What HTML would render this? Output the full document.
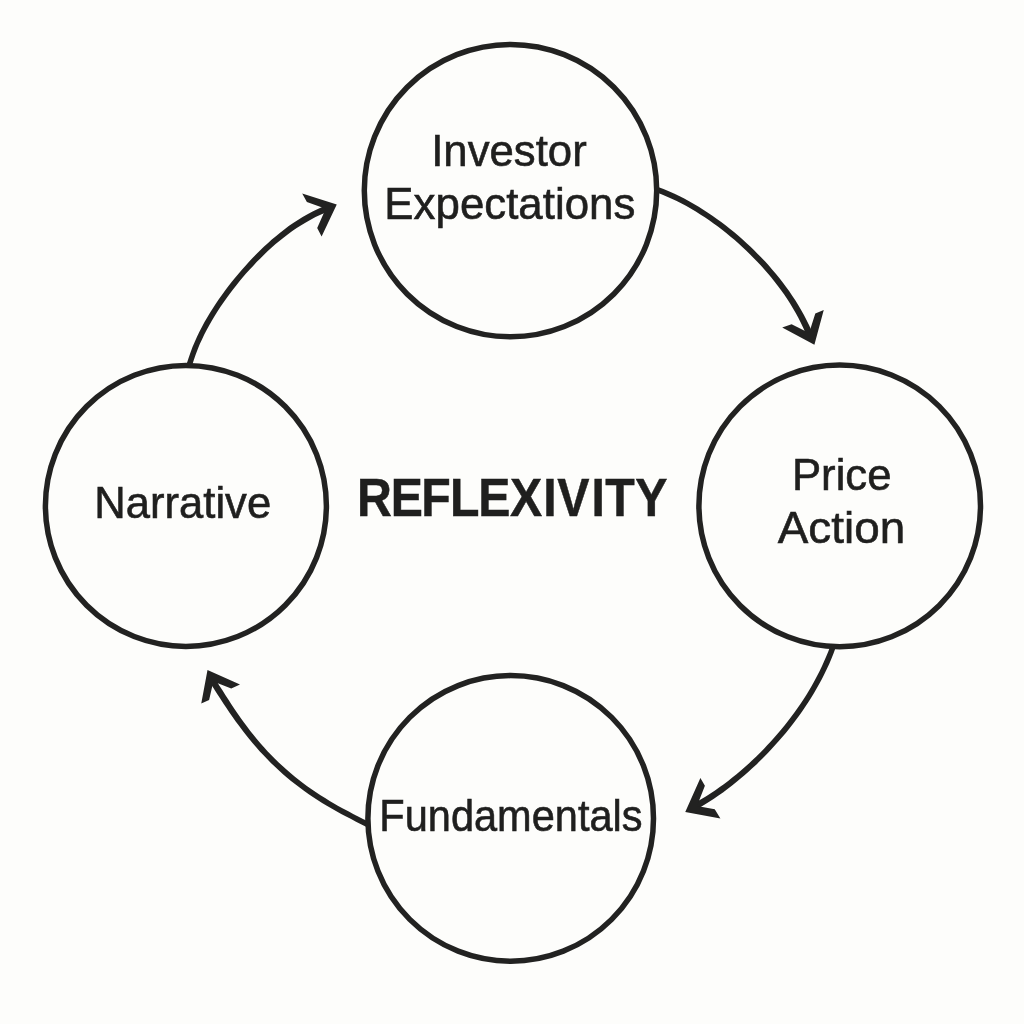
<!DOCTYPE html>
<html lang="en">
<head>
<meta charset="utf-8">
<title>Reflexivity</title>
<style>
  html, body { margin: 0; padding: 0; background: #fdfdfb; }
  body { width: 1024px; height: 1024px; overflow: hidden; }
  svg { display: block; }
  .ring { fill: none; stroke: #222221; stroke-width: 5.5; }
  .shaft, .head { fill: #222221; stroke: none; }
  text { font-family: "Liberation Sans", Arial, Helvetica, sans-serif; fill: #1f1f1e; }
  .label { font-size: 44px; stroke: #1f1f1e; stroke-width: 0.6px; }
  .title { font-size: 54px; font-weight: 700; stroke: #1f1f1e; stroke-width: 0.5px; }
</style>
</head>
<body>
<svg width="1024" height="1024" viewBox="0 0 1024 1024">
  <rect x="0" y="0" width="1024" height="1024" fill="#fdfdfb"/>

  <!-- arrows (drawn first so the circle strokes sit on top at the junctions) -->
  <!-- 1: Investor Expectations to Price Action -->
  <polygon class="shaft" points="656.1,192.2 661.4,194.3 666.6,196.4 671.7,198.7 676.7,201.1 681.6,203.6 686.4,206.1 691.1,208.8 695.8,211.6 700.3,214.4 704.8,217.3 709.2,220.3 713.6,223.4 717.9,226.6 722.1,229.8 726.2,233.1 730.3,236.4 734.4,239.8 738.3,243.3 742.3,246.9 746.1,250.5 749.9,254.2 753.6,257.9 757.3,261.7 760.9,265.6 764.4,269.5 767.9,273.5 771.3,277.6 774.6,281.7 777.9,285.9 781.1,290.2 784.2,294.6 787.2,299.0 790.1,303.6 792.9,308.2 795.7,312.9 798.3,317.8 800.8,322.7 803.2,327.8 805.5,333.0 807.7,338.2 813.7,335.8 811.5,330.4 809.0,325.1 806.5,319.9 803.8,314.8 801.1,309.9 798.2,305.0 795.3,300.3 792.2,295.7 789.1,291.1 785.9,286.7 782.6,282.3 779.3,278.0 775.8,273.8 772.3,269.7 768.8,265.6 765.2,261.6 761.5,257.7 757.7,253.9 753.9,250.1 750.0,246.3 746.1,242.7 742.1,239.1 738.1,235.5 734.0,232.1 729.8,228.7 725.5,225.3 721.2,222.1 716.9,218.9 712.4,215.7 707.9,212.7 703.3,209.7 698.7,206.8 693.9,204.0 689.1,201.2 684.2,198.6 679.2,196.1 674.0,193.6 668.8,191.3 663.5,189.1 658.0,187.0"/>
  <polygon class="head" points="814.4,344.7 782.2,327.5 791.6,324.25 809.1,332.95 815.3,313.4 823.75,310.1"/>
  <!-- 2: Price Action to Fundamentals -->
  <polygon class="shaft" points="830.3,646.1 828.3,651.4 826.2,656.5 824.0,661.6 821.8,666.6 819.4,671.5 816.9,676.3 814.4,681.1 811.8,685.8 809.0,690.4 806.3,695.0 803.4,699.5 800.4,703.9 797.4,708.3 794.4,712.6 791.2,716.8 788.0,721.0 784.7,725.2 781.4,729.3 778.0,733.3 774.5,737.3 771.0,741.2 767.4,745.1 763.8,749.0 760.1,752.7 756.3,756.5 752.5,760.1 748.6,763.7 744.6,767.3 740.6,770.8 736.5,774.2 732.3,777.6 728.1,780.9 723.8,784.2 719.4,787.3 715.0,790.4 710.4,793.5 705.8,796.4 701.1,799.3 696.3,802.1 691.4,804.9 694.5,810.6 699.5,807.7 704.4,804.8 709.2,801.8 713.9,798.7 718.5,795.6 723.0,792.4 727.5,789.1 731.8,785.7 736.1,782.3 740.3,778.8 744.5,775.3 748.5,771.7 752.5,768.1 756.5,764.4 760.4,760.6 764.2,756.8 767.9,753.0 771.6,749.1 775.2,745.1 778.8,741.1 782.3,737.0 785.8,732.9 789.2,728.7 792.5,724.5 795.7,720.2 798.9,715.9 802.1,711.5 805.1,707.0 808.1,702.5 811.0,697.9 813.9,693.3 816.6,688.6 819.3,683.8 821.9,678.9 824.4,674.0 826.8,669.0 829.2,663.9 831.4,658.7 833.5,653.4 835.5,648.0"/>
  <polygon class="head" points="685.25,812.06 700.4,778 704.9,785.8 697,805.9 714.75,809.25 720.4,818.5"/>
  <!-- 3: Fundamentals to Narrative -->
  <polygon class="shaft" points="368.5,821.6 363.5,819.2 358.6,816.7 353.6,814.2 348.8,811.6 343.9,809.0 339.1,806.4 334.4,803.7 329.7,800.9 325.1,798.1 320.5,795.2 316.0,792.3 311.6,789.3 307.2,786.2 302.9,783.0 298.7,779.8 294.6,776.5 290.5,773.1 286.5,769.6 282.6,766.1 278.7,762.5 274.9,758.8 271.2,755.0 267.5,751.2 264.0,747.3 260.4,743.3 257.0,739.2 253.6,735.1 250.3,730.9 247.0,726.6 243.8,722.3 240.7,717.9 237.6,713.4 234.5,708.9 231.5,704.4 228.5,699.8 225.5,695.2 222.6,690.6 219.6,685.9 216.7,681.2 213.8,676.5 208.3,679.9 211.2,684.6 214.2,689.3 217.2,694.0 220.2,698.6 223.2,703.2 226.3,707.8 229.4,712.4 232.6,716.9 235.7,721.4 239.0,725.8 242.3,730.2 245.6,734.5 249.0,738.8 252.5,743.0 256.0,747.1 259.6,751.2 263.3,755.1 267.1,759.0 270.9,762.9 274.7,766.6 278.7,770.3 282.7,773.9 286.8,777.4 291.0,780.9 295.3,784.2 299.6,787.5 303.9,790.7 308.4,793.9 312.9,796.9 317.5,799.9 322.1,802.9 326.8,805.7 331.6,808.5 336.4,811.2 341.2,813.9 346.1,816.5 351.1,819.1 356.0,821.7 361.0,824.2 366.0,826.7"/>
  <polygon class="head" points="207.5,670.06 240,684.4 231.25,688.5 213.35,681.6 209.1,700.06 201.25,703.6"/>
  <!-- 4: Narrative to Investor Expectations -->
  <polygon class="shaft" points="192.2,365.1 193.9,359.7 195.7,354.4 197.7,349.2 199.8,344.1 202.1,339.2 204.4,334.3 206.9,329.5 209.4,324.9 212.1,320.2 214.8,315.7 217.6,311.2 220.5,306.8 223.5,302.5 226.5,298.2 229.6,294.0 232.8,289.8 236.0,285.7 239.3,281.6 242.6,277.6 246.0,273.6 249.5,269.7 253.1,265.9 256.6,262.1 260.3,258.4 264.0,254.7 267.8,251.1 271.7,247.6 275.6,244.1 279.7,240.7 283.8,237.4 288.0,234.2 292.3,231.1 296.7,228.1 301.2,225.2 305.8,222.4 310.6,219.7 315.5,217.1 320.5,214.7 325.7,212.4 331.1,210.3 328.7,204.2 323.2,206.4 317.8,208.9 312.6,211.4 307.5,214.2 302.6,217.0 297.9,219.9 293.2,223.0 288.7,226.1 284.3,229.4 280.1,232.7 275.9,236.2 271.8,239.6 267.8,243.2 263.8,246.8 260.0,250.5 256.2,254.3 252.5,258.1 248.8,262.0 245.3,265.9 241.7,269.9 238.3,273.9 234.9,278.0 231.6,282.1 228.3,286.3 225.1,290.6 221.9,294.9 218.8,299.3 215.8,303.7 212.9,308.2 210.0,312.8 207.2,317.4 204.5,322.1 201.9,326.9 199.4,331.8 197.0,336.8 194.7,341.9 192.5,347.1 190.5,352.4 188.6,357.9 186.8,363.5"/>
  <polygon class="head" points="336.75,204.5 302.2,193.56 306.9,202 325.7,208.85 317.2,227.9 321.6,236.5"/>

  <!-- circles -->
  <circle class="ring" cx="510.5" cy="190.6" r="146.2"/>
  <circle class="ring" cx="185.9" cy="505.9" r="140.5"/>
  <circle class="ring" cx="839.7" cy="505.9" r="140.8"/>
  <circle class="ring" cx="510.7" cy="818.4" r="142.8"/>

  <!-- labels (group opacity keeps glyph antialiasing greyscale) -->
  <g opacity="0.999">
  <text class="title" transform="translate(0 516.3) scale(0.8929 1)" x="399.8 437.7 471.9 503.9 535.5 571.3 608.4 624.2 662.5 677.9 711.5" y="0">REFLEXIVITY</text>
  <text class="label" transform="translate(431.23 165.90) scale(0.9935 1.0000)" x="0" y="0">Investor</text>
  <text class="label" transform="translate(384.37 218.50) scale(0.9963 1.0000)" x="0" y="0">Expectations</text>
  <text class="label" transform="translate(94.28 517.60) scale(0.9912 1.0000)" x="0" y="0">Narrative</text>
  <text class="label" transform="translate(791.93 489.70) scale(0.9934 1.0000)" x="0" y="0">Price</text>
  <text class="label" transform="translate(777.75 542.70) scale(1.0426 1.0000)" x="0" y="0">Action</text>
  <text class="label" transform="translate(379.31 830.90) scale(0.9446 1.0000)" x="0" y="0">Fundamentals</text>
  </g>
</svg>
</body>
</html>
